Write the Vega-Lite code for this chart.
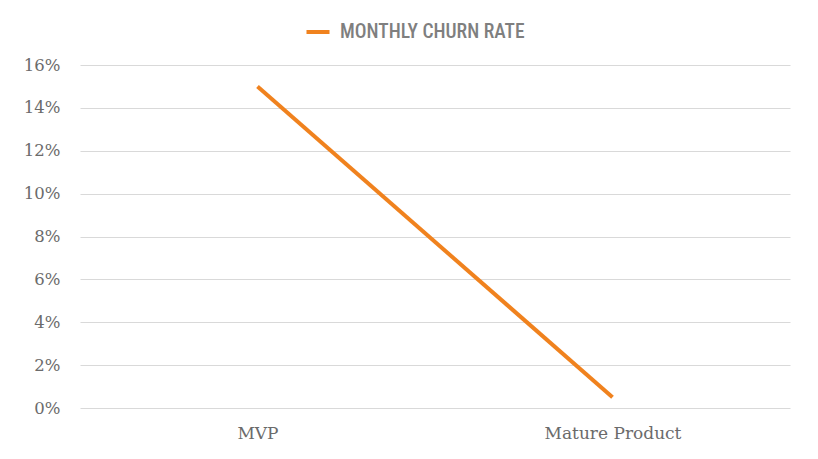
{
  "$schema": "https://vega.github.io/schema/vega-lite/v6.json",
  "autosize": {"type": "none"},
  "width": 710,
  "height": 343,
  "padding": {"left": 80, "top": 65, "right": 28, "bottom": 51},
  "background": "white",
  "config": {"view": {"stroke": null}},
  "data": {"values": [
    {"stage": "MVP", "rate": 0.15, "series": "MONTHLY CHURN RATE"},
    {"stage": "Mature Product", "rate": 0.005, "series": "MONTHLY CHURN RATE"}
  ]},
  "mark": {"type": "line", "strokeWidth": 4, "strokeCap": "butt"},
  "encoding": {
    "x": {
      "field": "stage", "type": "nominal", "sort": null,
      "scale": {"type": "point", "padding": 0.5},
      "axis": {"title": null, "labelAngle": 0, "domain": false, "ticks": false, "grid": false,
        "labelFont": "DejaVu Serif", "labelFontSize": 17, "labelColor": "#6b6b6b", "labelPadding": 17}
    },
    "y": {
      "field": "rate", "type": "quantitative",
      "scale": {"domain": [0, 0.16]},
      "axis": {"title": null, "format": ".0%", "values": [0,0.02,0.04,0.06,0.08,0.1,0.12,0.14,0.16],
        "labelOverlap": false,
        "domain": false, "ticks": false, "grid": true, "gridColor": "#d9d9d9", "gridWidth": 1,
        "labelFont": "DejaVu Serif", "labelFontSize": 16.5, "labelColor": "#6b6b6b", "labelPadding": 20}
    },
    "color": {
      "field": "series", "type": "nominal",
      "scale": {"range": ["#F0821E"]},
      "legend": {"title": null, "orient": "none", "legendX": 224, "legendY": -47,
        "symbolType": "stroke", "symbolSize": 530, "symbolStrokeWidth": 4, "labelLimit": 500,
        "labelFont": "Roboto Condensed, Roboto", "labelFontSize": 19.5, "labelFontWeight": 500, "labelColor": "#7f7f7f", "labelOffset": 8}
    }
  }
}
